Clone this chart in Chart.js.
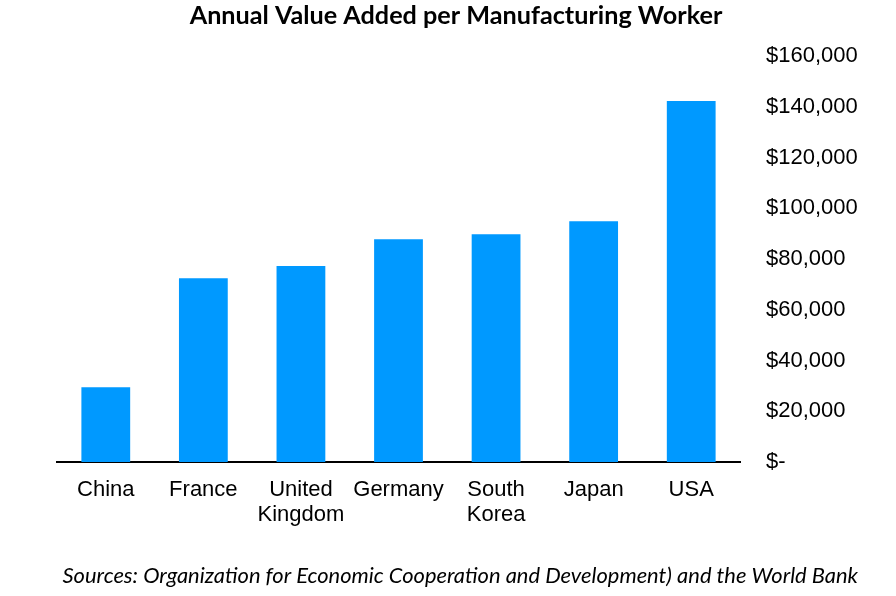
<!DOCTYPE html>
<html>
<head>
<meta charset="utf-8">
<script src="https://cdn.jsdelivr.net/npm/chart.js@4"></script>
<style>
  html, body { margin: 0; padding: 0; background: #fff; }
  #wrap { width: 896px; height: 596px; position: relative; }
</style>
</head>
<body>
<div id="wrap"><canvas id="chart" width="896" height="596"></canvas></div>
<script>
// データ
const countries = ['China', 'France', ['United', 'Kingdom'], 'Germany', ['South', 'Korea'], 'Japan', 'USA'];
const valueAdded = [29500, 72400, 77200, 87800, 89800, 94900, 142300];
const yTicks = [0, 20000, 40000, 60000, 80000, 100000, 120000, 140000, 160000];

const titleText = 'Annual Value Added per Manufacturing Worker';
const sourceText = 'Sources: Organization for Economic Cooperation and Development) and the World Bank';

// 指定幅に合うフォントサイズを求める
function fitFont(ctx, text, style, family, width) {
  ctx.font = `${style} 20px ${family}`;
  const size = 20 * width / ctx.measureText(text).width;
  return `${style} ${size.toFixed(1)}px ${family}`;
}

// タイトルと出典を固定位置に描画する
const textPlugin = {
  id: 'fixedText',
  afterDraw(chart) {
    const ctx = chart.ctx;
    ctx.save();
    ctx.fillStyle = '#000';
    ctx.textBaseline = 'middle';
    ctx.textAlign = 'center';
    ctx.font = fitFont(ctx, titleText, 'bold', 'Lato, sans-serif', 532);
    ctx.fillText(titleText, 456, 16);
    ctx.textAlign = 'right';
    ctx.font = fitFont(ctx, sourceText, 'italic', 'Lato, sans-serif', 795);
    ctx.fillText(sourceText, 858, 576);
    ctx.restore();
  }
};

new Chart(document.getElementById('chart'), {
  type: 'bar',
  data: {
    labels: countries,
    datasets: [{
      data: valueAdded,
      backgroundColor: '#0099ff',
      borderWidth: 0,
      categoryPercentage: 1,
      barPercentage: 0.5
    }]
  },
  options: {
    responsive: false,
    animation: false,
    layout: { padding: { left: 57, top: 56, right: 0, bottom: 0 } },
    plugins: {
      legend: { display: false },
      tooltip: { enabled: false }
    },
    scales: {
      x: {
        grid: { display: false, drawTicks: false },
        border: { display: true, color: '#000', width: 2 },
        ticks: {
          color: '#000',
          font: { family: '"Liberation Sans", Arial, sans-serif', size: 22, lineHeight: 1.15 },
          padding: 15,
          maxRotation: 0,
          autoSkip: false
        },
        afterFit(scale) { scale.height = 596 - 462; }
      },
      y: {
        position: 'right',
        min: 0,
        max: 160000,
        grid: { display: false, drawTicks: false },
        border: { display: false },
        afterBuildTicks(scale) { scale.ticks = yTicks.map(v => ({ value: v })); },
        afterFit(scale) { scale.width = 896 - 740; },
        ticks: {
          color: '#000',
          crossAlign: 'near',
          padding: 26,
          font: { family: '"Liberation Sans", Arial, sans-serif', size: 22 },
          callback: v => v === 0 ? '$-' : '$' + v.toLocaleString('en-US')
        }
      }
    }
  },
  plugins: [textPlugin]
});
</script>
</body>
</html>
